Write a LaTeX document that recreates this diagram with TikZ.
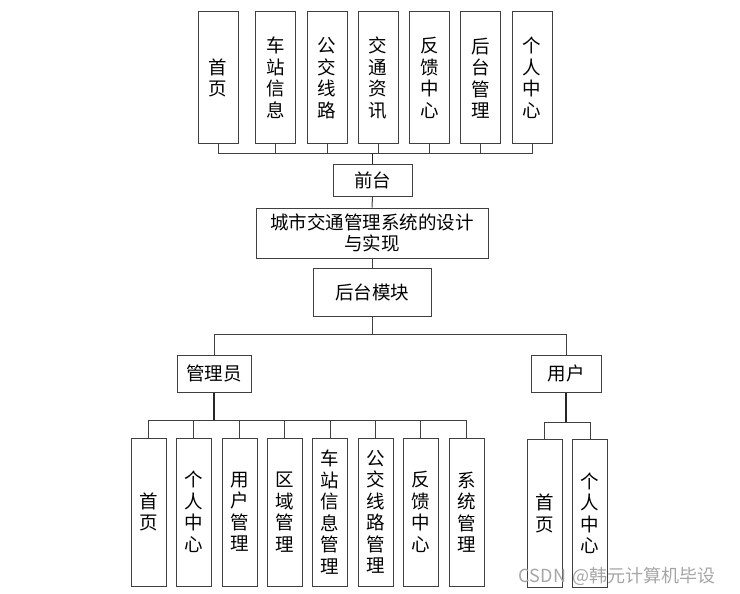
\documentclass[tikz,border=0pt]{standalone}
\usepackage{fontspec}
\setmainfont{Noto Sans CJK SC}
\usepackage{tikz}
\usetikzlibrary{positioning}

\begin{document}
\begin{tikzpicture}[x=1pt,y=-1pt,line width=1pt,
      box/.style={draw=black!75,fill=white,inner sep=0pt,align=center,
        font=\fontsize{18.5}{21.5}\selectfont},
      tall box/.style={box,minimum width=40pt,minimum height=132pt},
      leaf box/.style={box,minimum width=35pt,minimum height=148pt},
      link/.style={draw=black!75},
      trunk/.style={draw=black!85,line width=1.8pt}]
      \useasboundingbox (0,0) rectangle (740,594);

      % front end
      \node[tall box] (home) at (218,78) {首\\页};
      \node[tall box] (station) at (275.5,78) {车\\站\\信\\息};
      \node[tall box] (route) at (327,78) {公\\交\\线\\路};
      \node[tall box] (news) at (378,78) {交\\通\\资\\讯};
      \node[tall box] (feedback) at (429.5,78) {反\\馈\\中\\心};
      \node[tall box] (backend) at (480.5,78) {后\\台\\管\\理};
      \node[tall box] (profile) at (532,78) {个\\人\\中\\心};

      \node[box,minimum width=79pt,minimum height=32pt] (front) at (372.5,180) {前台};
      \node[box,minimum width=232pt,minimum height=50pt] (system) at (372,233)
        {城市交通管理系统的设计\\与实现};
      \node[box,minimum width=118pt,minimum height=48pt] (back) at (372,292) {后台模块};

      \node[box,minimum width=74pt,minimum height=37pt] (admin) at (214,373.5) {管理员};
      \node[box,minimum width=70pt,minimum height=37pt] (user) at (566,373.5) {用户};

      % admin leaves
      \node[leaf box] (a1) at (148.5,512) {首\\页};
      \node[leaf box] (a2) at (193.5,512) {个\\人\\中\\心};
      \node[leaf box] (a3) at (239.5,512) {用\\户\\管\\理};
      \node[leaf box] (a4) at (284.5,512) {区\\域\\管\\理};
      \node[leaf box] (a5) at (330,512) {车\\站\\信\\息\\管\\理};
      \node[leaf box] (a6) at (375.5,512) {公\\交\\线\\路\\管\\理};
      \node[leaf box] (a7) at (420.5,512) {反\\馈\\中\\心};
      \node[leaf box] (a8) at (466.5,512) {系\\统\\管\\理};

      % user leaves
      \node[leaf box] (u1) at (544.5,513.5) {首\\页};
      \node[leaf box] (u2) at (590,513.5) {个\\人\\中\\心};

      \coordinate (frontbus) at (372.5,153);
      \coordinate (backbus) at (372,334);
      \coordinate (adminbus) at (214,420);
      \coordinate (userbus) at (566,422);

      \draw[link] (home.south) |- (frontbus);
      \draw[link] (station.south) |- (frontbus);
      \draw[link] (route.south) |- (frontbus);
      \draw[link] (news.south) |- (frontbus);
      \draw[link] (feedback.south) |- (frontbus);
      \draw[link] (backend.south) |- (frontbus);
      \draw[link] (profile.south) |- (frontbus);
      \draw[trunk] (front.north) -- (frontbus);

      \draw[link] (front.south) -- (system.north);
      \draw[link] (system.south) -- (back.north);
      \draw[link] (back.south) -- (backbus);
      \draw[link] (admin.north) |- (backbus);
      \draw[link] (user.north) |- (backbus);

      \draw[link] (a1.north) |- (adminbus);
      \draw[link] (a2.north) |- (adminbus);
      \draw[link] (a3.north) |- (adminbus);
      \draw[link] (a4.north) |- (adminbus);
      \draw[link] (a5.north) |- (adminbus);
      \draw[link] (a6.north) |- (adminbus);
      \draw[link] (a7.north) |- (adminbus);
      \draw[link] (a8.north) |- (adminbus);
      \draw[trunk] (admin.south) -- (adminbus);

      \draw[link] (u1.north) |- (userbus);
      \draw[link] (u2.north) |- (userbus);
      \draw[trunk] (user.south) -- (userbus);

      \node[text=black!35,font=\fontsize{18}{18}\selectfont,inner sep=0pt]
        (mark) at (617,576) {CSDN\hspace{6pt}@韩元计算机毕设};
\end{tikzpicture}
\end{document}
